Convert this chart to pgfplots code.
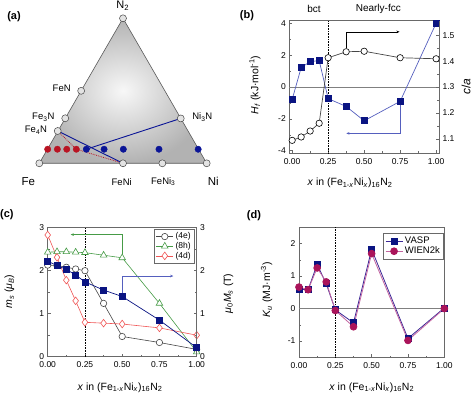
\documentclass[border=0pt]{standalone}
\usepackage{pgfplots}
\pgfplotsset{compat=1.18}
\usepackage{fontspec}
\setmainfont{Liberation Sans}
\usetikzlibrary{arrows.meta}
\definecolor{navy}{RGB}{10,20,130}
\definecolor{lineblue}{RGB}{85,95,190}
\definecolor{mgreen}{RGB}{70,155,70}
\definecolor{mred}{RGB}{240,85,85}
\definecolor{dgray}{RGB}{70,70,70}
\definecolor{wcol}{RGB}{170,20,90}
\definecolor{wline}{RGB}{195,100,160}
\definecolor{vline}{RGB}{60,40,150}
\definecolor{dotred}{RGB}{185,20,35}
\definecolor{dotblue}{RGB}{10,20,150}
\definecolor{axgray}{RGB}{105,105,105}
\pgfplotsset{
  every axis/.append style={
    scale only axis, clip=false,
    axis line style={axgray, line width=0.6pt},
    every tick/.style={axgray, line width=0.5pt},
    tick label style={font=\fontsize{8.5}{9}\selectfont},
    xticklabel shift=1.5pt,
    /pgf/number format/assume math mode=true,
    major tick length=3pt, minor tick length=1.8pt,
  },
  xcomp/.style={xtick={0,0.25,0.5,0.75,1}, xticklabels={0.00,0.25,0.50,0.75,1.00}, minor x tick num=1, xtick pos=bottom},
}
\tikzset{arr/.style={-{Stealth[length=3.2pt,width=2.6pt]}, line width=0.6pt}}
\newcommand{\lab}{\fontsize{10.5}{12}\selectfont}
\newcommand{\xlab}{\textit{x} in (Fe\textsubscript{1-\textit{x}}Ni\textsubscript{\textit{x}})\textsubscript{16}N\textsubscript{2}}
\newcommand{\tlab}{\fontsize{9.5}{11}\selectfont}
\newcommand{\plab}{\bfseries\fontsize{11}{12}\selectfont}
\begin{document}
\begin{tikzpicture}
\useasboundingbox (0,0) rectangle (474pt,394pt);
% ---------------- (a) ----------------
\begin{axis}[at={(39.3pt,230.7pt)}, anchor=south west, width=167.4pt, height=145pt,
  xmin=0, xmax=1, ymin=0, ymax=0.866, hide axis]
\addplot[draw=gray!70!black, line width=0.6pt, inner color=gray!6, outer color=gray!60] coordinates {(0,0) (0.5,0.866) (1,0) (0,0)};
\addplot[dotred, densely dotted, line width=0.8pt] coordinates {(0.11,0.193) (0.221,0.084) (0.5,0)};
\addplot[dotblue, line width=0.9pt] coordinates {(0.11,0.193) (0.5,0)};
\addplot[dotblue, line width=0.9pt] coordinates {(0.281,0.084) (0.845,0.268)};
\addplot[only marks, mark=*, mark size=3.5pt, mark options={fill=gray!22, draw=gray!55!black, line width=0.5pt}] coordinates {
(0,0) (0.5,0.866) (1,0) (0.25,0.433) (0.155,0.269) (0.11,0.193) (0.845,0.268) (0.5,0) (0.735,0)};
\addplot[only marks, mark=*, mark size=3.2pt, dotred] coordinates {(0.05,0.084) (0.108,0.084) (0.164,0.084) (0.221,0.084)};
\addplot[only marks, mark=*, mark size=3.2pt, dotblue] coordinates {(0.281,0.084) (0.387,0.084) (0.502,0.084) (0.715,0.084) (0.949,0.084)};
\end{axis}
\node[font=\plab] at (14pt,377pt) {(a)};
\node[font=\fontsize{11}{12}\selectfont] at (122.7pt,388.5pt) {N\textsubscript{2}};
\node[font=\fontsize{11.5}{12}\selectfont] at (28.3pt,212.3pt) {Fe};
\node[font=\fontsize{11.5}{12}\selectfont] at (213.3pt,212.3pt) {Ni};
\node[font=\tlab] at (121.7pt,212.3pt) {FeNi};
\node[font=\tlab] at (163.3pt,212.3pt) {FeNi\textsubscript{3}};
\node[font=\tlab] at (61.7pt,305.7pt) {FeN};
\node[font=\tlab] at (43.3pt,276.7pt) {Fe\textsubscript{3}N};
\node[font=\tlab] at (36pt,264pt) {Fe\textsubscript{4}N};
\node[font=\tlab] at (202.3pt,276.7pt) {Ni\textsubscript{3}N};
% ---------------- (b) ----------------
\begin{axis}[at={(289.3pt,240.7pt)}, anchor=south west, width=149.7pt, height=132.6pt,
  xmin=-0.02, xmax=1.02, ymin=-4.16, ymax=4.16, xcomp,
  ytick={-4,-2,0,2,4}, yticklabels={-4,-2,0,2,4}, minor y tick num=1, ytick pos=left]
\addplot[gray, line width=0.6pt] coordinates {(-0.02,0) (1.02,0)};
\addplot[black, densely dotted, line width=0.6pt] coordinates {(0.25,-4.16) (0.25,4.16)};
\addplot[lineblue, arr] coordinates {(0.75,-1.15) (0.75,-2.91) (0.376,-2.91)};
\addplot[lineblue, line width=0.7pt, mark=square*, mark size=3pt, mark options={fill=navy, draw=navy}] coordinates {
(0,-0.78) (0.0625,1.22) (0.125,1.59) (0.1875,1.66) (0.25,-0.73) (0.375,-1.22) (0.5,-2.12) (0.75,-0.9) (1.0,4.0)};
\end{axis}
\begin{axis}[at={(289.3pt,240.7pt)}, anchor=south west, width=149.7pt, height=132.6pt,
  xmin=-0.02, xmax=1.02, ymin=1.044, ymax=1.556, axis x line=none, axis y line*=right,
  ytick={1.1,1.2,1.3,1.4,1.5}, yticklabels={1.1,1.2,1.3,1.4,1.5}, minor y tick num=1]
\addplot[black, arr] coordinates {(0.375,1.450) (0.375,1.513) (0.746,1.513)};
\addplot[dgray, line width=0.7pt, mark=*, mark size=3.2pt, mark options={fill=white, draw=black, line width=0.6pt}] coordinates {
(0,1.094) (0.0625,1.107) (0.125,1.130) (0.1875,1.160) (0.25,1.413) (0.375,1.436) (0.5,1.438) (0.75,1.413) (1.0,1.409)};
\end{axis}
\node[font=\plab] at (247pt,378pt) {(b)};
\node[font=\fontsize{10}{11}\selectfont] at (314pt,385.5pt) {bct};
\node[font=\fontsize{10}{11}\selectfont] at (378.3pt,385.5pt) {Nearly-fcc};
\node[font=\lab, rotate=90] at (255pt,309pt) {\textit{H}\textsubscript{\textit{f}} (kJ·mol\textsuperscript{-1})};
\node[font=\fontsize{12}{13}\selectfont, rotate=90] at (466pt,307.3pt) {\textit{c}/\textit{a}};
\node[font=\lab] at (350pt,211.3pt) {\xlab};
% ---------------- (c) ----------------
\begin{axis}[at={(47.7pt,37.3pt)}, anchor=south west, width=149pt, height=129pt,
  xmin=0, xmax=1, ymin=0, ymax=3, xcomp,
  ytick={0,1,2,3}, yticklabels={0,1,2,3}, minor y tick num=1, ytick pos=left,
  legend style={at={(0.985,0.99)}, anchor=north east, draw=axgray, font=\fontsize{8.5}{9}\selectfont, inner sep=1.5pt, row sep=-2pt, line width=0.5pt},
  legend cell align=left]
\addplot[black, densely dotted, line width=0.6pt, forget plot] coordinates {(0.25,0) (0.25,3)};
\addplot[mgreen, arr, forget plot] coordinates {(0.5,2.38) (0.5,2.84) (0.154,2.84)};
\addplot[dgray, line width=0.6pt, mark=*, mark size=3.2pt, mark options={fill=white, draw=dgray}] coordinates {
(0,2.13) (0.0625,2.12) (0.125,2.08) (0.1875,2.04) (0.25,2.0) (0.375,1.24) (0.5,0.47) (0.75,0.33) (1.0,0.17)};
\addlegendentry{(4e)}
\addplot[mgreen, line width=0.6pt, mark=triangle*, mark size=3.8pt, mark options={fill=white, draw=mgreen}] coordinates {
(0,2.43) (0.0625,2.44) (0.125,2.44) (0.1875,2.43) (0.25,2.42) (0.375,2.36) (0.5,2.30) (0.75,1.24) (1.0,0.11)};
\addlegendentry{(8h)}
\addplot[mred, line width=0.6pt, mark=diamond*, mark size=3.8pt, mark options={fill=white, draw=mred}] coordinates {
(0,2.83) (0.0625,2.31) (0.125,1.78) (0.1875,1.30) (0.25,0.80) (0.375,0.78) (0.5,0.76) (0.75,0.67) (1.0,0.50)};
\addlegendentry{(4d)}
\end{axis}
\begin{axis}[at={(47.7pt,37.3pt)}, anchor=south west, width=149pt, height=129pt,
  xmin=0, xmax=1, ymin=0, ymax=3, axis x line=none, axis y line*=right,
  ytick={0,1,2,3}, yticklabels={0,1,2,3}, minor y tick num=1]
\addplot[lineblue, arr] coordinates {(0.5,1.47) (0.5,1.876) (0.843,1.876)};
\addplot[navy, line width=0.7pt, mark=square*, mark size=3pt, mark options={fill=navy, draw=navy}] coordinates {
(0,2.22) (0.0625,2.12) (0.125,2.03) (0.1875,1.90) (0.25,1.74) (0.375,1.55) (0.5,1.40) (0.75,0.85) (1.0,0.21)};
\end{axis}
\node[font=\plab, anchor=west, inner sep=0pt] at (0pt,179pt) {(c)};
\node[font=\lab, rotate=90] at (9.5pt,102.3pt) {\textit{m}\textsubscript{\textit{s}} (\textit{μ}\textsubscript{\textit{B}})};
\node[font=\lab, rotate=90] at (228.3pt,100.7pt) {\textit{μ}\textsubscript{0}\textit{M}\textsubscript{\textit{s}} (T)};
\node[font=\lab] at (120pt,6.5pt) {\xlab};
% ---------------- (d) ----------------
\begin{axis}[at={(299pt,36.7pt)}, anchor=south west, width=145.3pt, height=130pt,
  xmin=0, xmax=1, ymin=-1.5, ymax=2.5, xcomp,
  ytick={-1,0,1,2}, yticklabels={-1,0,1,2}, minor y tick num=1, ytick pos=left,
  legend style={at={(0.995,0.955)}, anchor=north east, draw=axgray, font=\fontsize{9.5}{10}\selectfont, inner sep=1.5pt, row sep=-2pt, line width=0.5pt},
  legend cell align=left]
\addplot[gray, line width=0.6pt, forget plot] coordinates {(0,0) (1,0)};
\addplot[black, densely dotted, line width=0.6pt, forget plot] coordinates {(0.25,-1.5) (0.25,2.5)};
\addplot[vline, line width=0.8pt, mark=square*, mark size=3pt, mark options={fill=navy, draw=navy}] coordinates {
(0,0.60) (0.0625,0.58) (0.125,1.36) (0.1875,0.76) (0.25,-0.04) (0.375,-0.44) (0.5,1.82) (0.75,-0.92) (1.0,0.02)};
\addlegendentry{VASP}
\addplot[wline, line width=0.8pt, mark=*, mark size=3.4pt, mark options={fill=wcol, draw=wcol}] coordinates {
(0,0.66) (0.0625,0.58) (0.125,1.25) (0.1875,0.82) (0.25,-0.06) (0.375,-0.56) (0.5,1.69) (0.75,-0.98) (1.0,0.0)};
\addlegendentry{WIEN2k}
\end{axis}
\node[font=\plab] at (254pt,178pt) {(d)};
\node[font=\lab, rotate=90] at (266.7pt,104pt) {\textit{K}\textsubscript{\textit{u}} (MJ·m\textsuperscript{-3})};
\node[font=\lab] at (371.7pt,6.5pt) {\xlab};
\end{tikzpicture}
\end{document}
